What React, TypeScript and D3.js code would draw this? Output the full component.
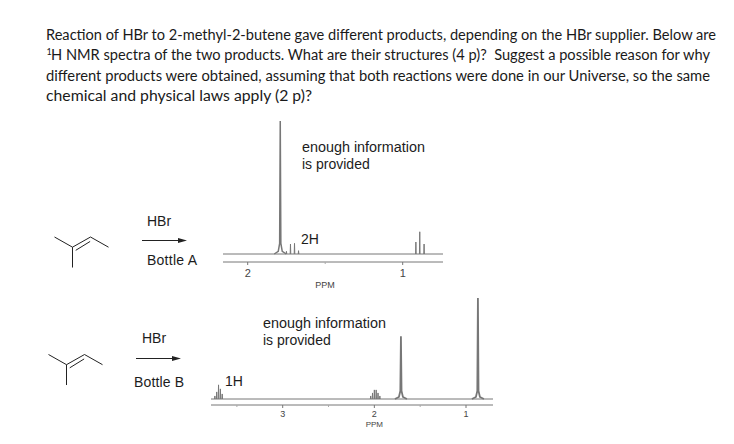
import React from "react";
import * as d3 from "d3";

const questionLines = [
  "Reaction of HBr to 2-methyl-2-butene gave different products, depending on the HBr supplier. Below are",
  "H NMR spectra of the two products. What are their structures (4 p)?  Suggest a possible reason for why",
  "different products were obtained, assuming that both reactions were done in our Universe, so the same",
  "chemical and physical laws apply (2 p)?",
];
const questionStarts = [46, 51, 46, 46];
const questionWidths = [670, 659, 664, 266];

// [ppm, intensity 0..1]
const peaksA: [number, number][] = [
  [1.79, 1],
  [1.75, 0.02],
  [1.724, 0.075],
  [1.698, 0.08],
  [1.672, 0.025],
  [0.915, 0.09],
  [0.89, 0.167],
  [0.862, 0.075],
];
const peaksB: [number, number][] = [
  [3.74, 0.03],
  [3.72, 0.07],
  [3.7, 0.14],
  [3.68, 0.1],
  [3.66, 0.05],
  [2.04, 0.03],
  [2.02, 0.06],
  [2.0, 0.09],
  [1.98, 0.09],
  [1.96, 0.06],
  [1.94, 0.03],
  [1.71, 0.62],
  [0.87, 1],
];
const ticksMajorA = [2, 1];
const ticksMinorA = [1.5];
const ticksMajorB = [3, 2, 1];
const ticksMinorB = [3.5, 2.5, 1.5];

const moleculeBonds: [number, number, number, number][] = [
  [-1, 0, 0, 0.55],
  [0, 0.55, 0, 1.65],
  [0, 0.55, 1, 0],
  [0.18, 0.72, 0.98, 0.24],
  [1, 0, 2, 0.55],
];

const dk = "#222";
const grey = "#777";
const sans = "'Liberation Sans', Arial, sans-serif";

function Spectrum({ peaks, x, base, top, axisY, x0, x1, major, minor, width, tickDy, tickSize }: any) {
  const y = d3.scaleLinear().domain([0, 1]).range([base, top]);
  const px = Math.abs(x.domain()[1] - x.domain()[0]) / Math.abs(x.range()[1] - x.range()[0]);
  const line = d3.line<[number, number]>().x((d) => x(d[0])).y((d) => y(d[1]));
  const isBig = (p: [number, number]) => p[1] > 0.3;
  const outline = (p: [number, number]): [number, number][] =>
    isBig(p)
      ? [
          [p[0] + 6 * px, 0],
          [p[0] + 2 * px, 0.02],
          [p[0] + 0.6 * px, 0.08],
          [p[0], p[1]],
          [p[0] - 0.6 * px, 0.08],
          [p[0] - 2 * px, 0.02],
          [p[0] - 6 * px, 0],
        ]
      : [
          [p[0] + 0.3 * px, 0],
          [p[0], p[1]],
          [p[0] - 0.3 * px, 0],
        ];
  return (
    <g>
      <line x1={x0} x2={x1} y1={base} y2={base} stroke={grey} strokeWidth={1} />
      {peaks.map((p: [number, number], i: number) => (
        <path key={i} d={line(outline(p)) as string} fill="none" stroke={grey} strokeWidth={isBig(p) ? width : 1} />
      ))}
      <line x1={x0} x2={x1} y1={axisY} y2={axisY} stroke={grey} strokeWidth={1} />
      {major.map((t: number) => (
        <g key={t}>
          <line x1={x(t)} x2={x(t)} y1={axisY} y2={axisY + 3} stroke={grey} />
          <text x={x(t)} y={axisY + tickDy} fontSize={tickSize} textAnchor="middle" fontFamily={sans} fill="#444">{t}</text>
        </g>
      ))}
      {minor.map((t: number) => (
        <line key={t} x1={x(t)} x2={x(t)} y1={axisY} y2={axisY + 2} stroke="#aaa" />
      ))}
    </g>
  );
}

function Molecule({ ox, oy }: { ox: number; oy: number }) {
  const sx = d3.scaleLinear().domain([0, 1]).range([ox, ox + 18]);
  const sy = d3.scaleLinear().domain([0, 1]).range([oy, oy + 18.5]);
  return (
    <g stroke={dk} strokeWidth={1}>
      {moleculeBonds.map((b, i) => (
        <line key={i} x1={sx(b[0])} y1={sy(b[1])} x2={sx(b[2])} y2={sy(b[3])} />
      ))}
    </g>
  );
}

function Arrow({ x0, x1, y }: { x0: number; x1: number; y: number }) {
  return (
    <g>
      <line x1={x0} x2={x1 - 6} y1={y} y2={y} stroke={dk} strokeWidth={1} />
      <path d={`M${x1 - 9},${y - 2.5}L${x1},${y}L${x1 - 9},${y + 2.5}Z`} fill={dk} />
    </g>
  );
}

export default function App() {
  const xA = d3.scaleLinear().domain([2, 1]).range([247.7, 402.7]);
  const xB = d3.scaleLinear().domain([3, 1]).range([282.7, 466]);
  const label = { fontFamily: sans, fill: "#1c1c1c" };
  return (
    <svg width={734} height={444} style={{ position: "absolute", left: 0, top: 0, background: "#fff" }}>
      <g fontFamily="Lato, sans-serif" fontSize={14.5} fill="#1a1a1a">
        {questionLines.map((t, i) => (
          <text key={i} x={questionStarts[i]} y={39.5 + i * 20.6} textLength={questionWidths[i]} lengthAdjust="spacingAndGlyphs" style={{ whiteSpace: "pre" }}>{t}</text>
        ))}
        <text x={46.5} y={55} fontSize={9}>1</text>
      </g>

      <Spectrum peaks={peaksA} x={xA} base={254} top={121} axisY={262} x0={223} x1={443} major={ticksMajorA} minor={ticksMinorA} width={1.5} tickDy={15} tickSize={11} />
      <Spectrum peaks={peaksB} x={xB} base={399} top={298} axisY={405} x0={211} x1={493} major={ticksMajorB} minor={ticksMinorB} width={1.8} tickDy={12} tickSize={9} />
      <text x={xB(2)} y={427} fontSize={8} textAnchor="middle" fontFamily={sans} fill="#444">PPM</text>
      <text x={325} y={288} fontSize={9} textAnchor="middle" fontFamily={sans} fill="#444">PPM</text>

      <g fontSize={14} {...label}>
        <text x={302} y={152} textLength={123} lengthAdjust="spacingAndGlyphs">enough information</text>
        <text x={302} y={169}>is provided</text>
        <text x={263} y={328} textLength={123} lengthAdjust="spacingAndGlyphs">enough information</text>
        <text x={263} y={345}>is provided</text>
        <text x={301} y={244}>2H</text>
        <text x={225} y={386}>1H</text>
        <text x={147} y={226}>HBr</text>
        <text x={147} y={265} textLength={50}>Bottle A</text>
        <text x={142} y={343}>HBr</text>
        <text x={134} y={387} textLength={50}>Bottle B</text>
      </g>

      <Molecule ox={72.5} oy={237} />
      <Arrow x0={142} x1={187} y={240.5} />
      <Molecule ox={66.5} oy={354.5} />
      <Arrow x0={136} x1={181} y={358.5} />
    </svg>
  );
}
